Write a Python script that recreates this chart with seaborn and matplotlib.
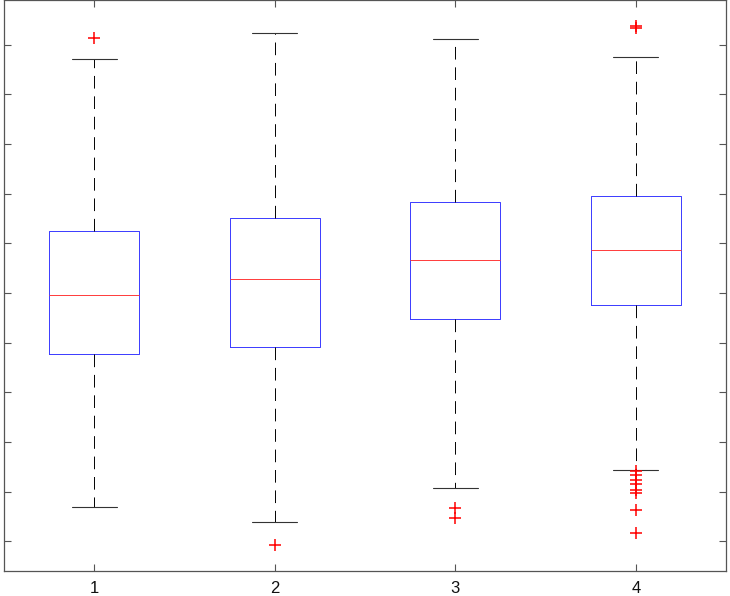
import matplotlib
matplotlib.use("Agg")
import matplotlib.pyplot as plt
import seaborn as sns

# values (y tick units, ticks at 0..10)
labels = ['1', '2', '3', '4']
whisker_low = [0.69, 0.38, 1.07, 1.43]
q1 = [3.77, 3.91, 4.48, 4.76]
median = [4.96, 5.28, 5.67, 5.87]
q3 = [6.25, 6.51, 6.83, 6.96]
whisker_high = [9.72, 10.24, 10.12, 9.76]
outliers = [
    [10.14],
    [-0.08],
    [0.67, 0.46],
    [10.37, 10.34, 1.41, 1.33, 1.23, 1.15, 1.03, 0.97, 0.63, 0.16],
]

sns.set_style("ticks", {"xtick.direction": "in", "ytick.direction": "in"})
plt.rcParams['font.family'] = ['Liberation Sans', 'DejaVu Sans']

# stats table for matplotlib's bxp
stats = []
for i in range(len(labels)):
    stats.append({
        'label': labels[i], 'whislo': whisker_low[i], 'q1': q1[i],
        'med': median[i], 'q3': q3[i], 'whishi': whisker_high[i],
        'fliers': outliers[i],
    })

fig = plt.figure(figsize=(7.3, 5.96), dpi=100)
ax = fig.add_axes([4 / 730, 25 / 596, 722 / 730, 571 / 596])

ax.bxp(stats, positions=[1, 2, 3, 4], widths=0.5,
       boxprops=dict(color='#3a3aff', linewidth=0.7),
       medianprops=dict(color='#ff3a3a', linewidth=0.7),
       whiskerprops=dict(color='black', linewidth=0.7, linestyle=(0, (13, 8))),
       capprops=dict(color='#333333', linewidth=0.8),
       flierprops=dict(marker='+', markeredgecolor='red', markersize=9,
                       markeredgewidth=1.1, linestyle='none'),
       capwidths=0.25)

ax.set_xlim(0.5, 4.5)
ax.set_ylim(-0.6, 10.9)
ax.set_yticks(range(11))
ax.set_yticklabels([])
ax.set_xticks([1, 2, 3, 4])
ax.set_xticklabels(labels, fontsize=12, color='#111111')
ax.tick_params(top=True, right=True, length=5, width=0.8, color='#555555', pad=7)
for s in ax.spines.values():
    s.set_color('#555555')
    s.set_linewidth(0.9)

fig.savefig('out.png', dpi=100)
